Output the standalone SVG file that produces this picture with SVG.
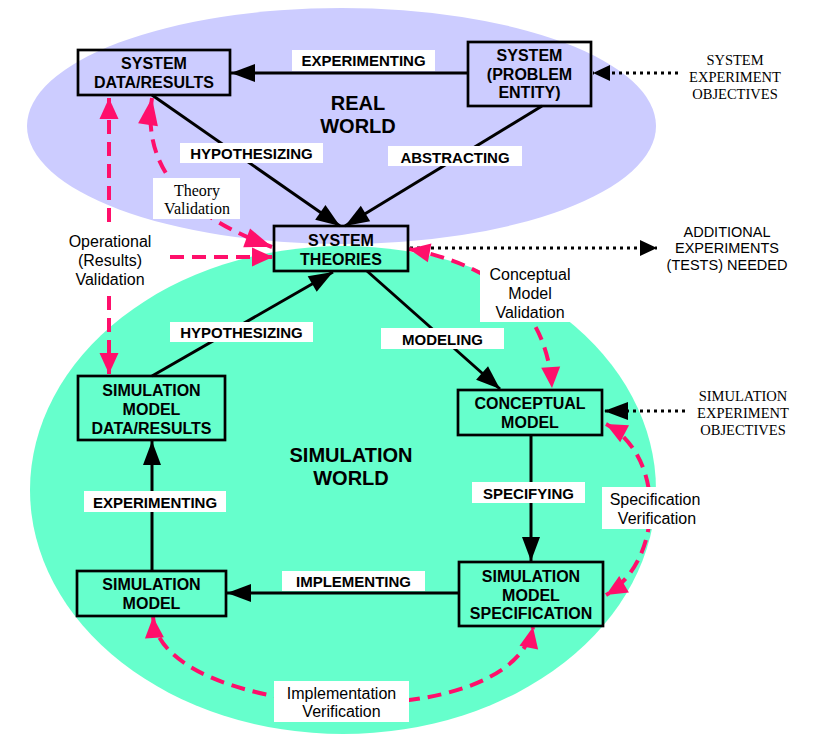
<svg xmlns="http://www.w3.org/2000/svg" width="823" height="741" viewBox="0 0 823 741">
<style>
.box{fill:none;stroke:#000;stroke-width:2.7}
.bt{font-family:"Liberation Sans",Arial,sans-serif;font-weight:bold;font-size:16px;text-anchor:middle;fill:#000}
.lt{font-family:"Liberation Sans",Arial,sans-serif;font-weight:bold;font-size:15px;text-anchor:middle;fill:#000}
.wt{font-family:"Liberation Sans",Arial,sans-serif;font-weight:bold;font-size:20px;text-anchor:middle;fill:#000}
.pt{font-family:"Liberation Sans",Arial,sans-serif;font-size:16px;text-anchor:middle;fill:#000}
.at{font-family:"Liberation Sans",Arial,sans-serif;font-size:14.5px;text-anchor:middle;fill:#000}
.st{font-family:"Liberation Serif","Times New Roman",serif;font-size:14.5px;text-anchor:middle;fill:#000}
.tt{font-family:"Liberation Serif","Times New Roman",serif;font-size:16px;text-anchor:middle;fill:#000}
.ln{stroke:#000;stroke-width:3;fill:none}
.ds{stroke:#FF0F6B;stroke-width:4;stroke-dasharray:14 8;fill:none}
.dt{stroke:#000;stroke-width:3;stroke-dasharray:3 4;fill:none}
.bg{fill:#fff}
</style>
<defs>
<marker id="ah" markerUnits="userSpaceOnUse" markerWidth="26" markerHeight="20" refX="24" refY="9" orient="auto" overflow="visible"><path d="M0,0 L24,9 L0,18 Z" fill="#000"/></marker>
<marker id="ahs" markerUnits="userSpaceOnUse" markerWidth="18" markerHeight="16" refX="17" refY="8" orient="auto" overflow="visible"><path d="M0,0 L17,8 L0,16 Z" fill="#000"/></marker>
<marker id="ahp" markerUnits="userSpaceOnUse" markerWidth="22" markerHeight="20" refX="21" refY="9.5" orient="auto-start-reverse" overflow="visible"><path d="M0,0 L21,9.5 L0,19 Z" fill="#FF0F6B"/></marker>
<marker id="ahpl" markerUnits="userSpaceOnUse" markerWidth="28" markerHeight="20" refX="27" refY="10" orient="auto-start-reverse" overflow="visible"><path d="M0,0 L27,10 L0,20 Z" fill="#FF0F6B"/></marker>
</defs>

<g id="regions">
<ellipse id="simulation-world" cx="343" cy="490" rx="313" ry="244" fill="#66FFCC"/>
<ellipse id="real-world" cx="341.5" cy="126" rx="314.5" ry="118" fill="#CCCCFF"/>
<text class="wt" x="358" y="110">REAL</text>
<text class="wt" x="358" y="133">WORLD</text>
<text class="wt" x="351" y="462">SIMULATION</text>
<text class="wt" x="351" y="485">WORLD</text>
</g>

<g id="connectors">
<line class="ln" x1="468" y1="73" x2="231" y2="73" marker-end="url(#ah)"/>
<line class="ln" x1="152" y1="95" x2="340" y2="226" marker-end="url(#ah)"/>
<line class="ln" x1="542" y1="106" x2="345" y2="226" marker-end="url(#ah)"/>
<line class="ln" x1="152" y1="376" x2="333" y2="272" marker-end="url(#ah)"/>
<line class="ln" x1="367" y1="271" x2="500" y2="389" marker-end="url(#ah)"/>
<line class="ln" x1="531" y1="435" x2="531" y2="561" marker-end="url(#ah)"/>
<line class="ln" x1="459" y1="593" x2="227" y2="593" marker-end="url(#ah)"/>
<line class="ln" x1="152" y1="571" x2="152" y2="441" marker-end="url(#ah)"/>

<line class="dt" x1="678" y1="73" x2="593" y2="73" marker-end="url(#ahs)"/>
<line class="dt" x1="410" y1="248" x2="657" y2="248" marker-end="url(#ahs)"/>
<line class="dt" x1="685" y1="411" x2="604" y2="411" marker-end="url(#ah)"/>

<line class="ds" x1="109" y1="98" x2="109" y2="374" marker-start="url(#ahp)" marker-end="url(#ahp)"/>
<path class="ds" d="M272,247 Q137,198 152,98" marker-start="url(#ahpl)" marker-end="url(#ahpl)"/>
<line class="ds" x1="170" y1="257" x2="273" y2="257" marker-end="url(#ahp)"/>
<path class="ds" d="M409,249 Q545,275 552,388" marker-start="url(#ahp)" marker-end="url(#ahp)"/>
<path class="ds" d="M606,424 C665,455 665,560 606,595" marker-start="url(#ahp)" marker-end="url(#ahp)"/>
<path class="ds" d="M153,617 C160,720 510,740 533,627" marker-start="url(#ahp)" marker-end="url(#ahp)"/>

<g id="label-experimenting-top"><rect class="bg" x="292" y="50" width="143" height="21"/><text class="lt" x="363.5" y="66">EXPERIMENTING</text></g>
<g id="label-hypothesizing-top"><rect class="bg" x="180" y="143" width="143" height="20"/><text class="lt" x="251.5" y="159">HYPOTHESIZING</text></g>
<g id="label-abstracting"><rect class="bg" x="388" y="146" width="134" height="20"/><text class="lt" x="455" y="162.5">ABSTRACTING</text></g>
<g id="label-hypothesizing-low"><rect class="bg" x="170" y="322" width="143" height="20"/><text class="lt" x="241.5" y="337.5">HYPOTHESIZING</text></g>
<g id="label-modeling"><rect class="bg" x="381" y="328" width="123" height="21"/><text class="lt" x="442.5" y="345">MODELING</text></g>
<g id="label-specifying"><rect class="bg" x="472" y="482" width="113" height="21"/><text class="lt" x="528.5" y="498.5">SPECIFYING</text></g>
<g id="label-implementing"><rect class="bg" x="282" y="571" width="143" height="20"/><text class="lt" x="353.5" y="586.5">IMPLEMENTING</text></g>
<g id="label-experimenting-low"><rect class="bg" x="84" y="491" width="142" height="21"/><text class="lt" x="155" y="507.5">EXPERIMENTING</text></g>

<g id="label-operational"><rect class="bg" x="65" y="230" width="95" height="60"/><text class="pt" x="110" y="247">Operational</text><text class="pt" x="110" y="266">(Results)</text><text class="pt" x="110" y="285">Validation</text></g>
<g id="label-theory"><rect class="bg" x="153" y="178" width="87" height="41"/><text class="tt" x="197" y="195.5">Theory</text><text class="tt" x="197" y="213.5">Validation</text></g>
<g id="label-conceptual"><rect class="bg" x="480" y="265" width="92" height="57"/><text class="pt" x="530" y="280">Conceptual</text><text class="pt" x="530" y="299">Model</text><text class="pt" x="530" y="317.5">Validation</text></g>
<g id="label-specification"><rect class="bg" x="602" y="487" width="100" height="42"/><text class="pt" x="655" y="505">Specification</text><text class="pt" x="657" y="524">Verification</text></g>
<g id="label-implementation"><rect class="bg" x="274" y="681" width="135" height="41"/><text class="pt" x="341.5" y="698.5">Implementation</text><text class="pt" x="341.5" y="717">Verification</text></g>

<g id="note-system-objectives"><text class="st" x="735" y="64.5">SYSTEM</text><text class="st" x="735" y="81.5">EXPERIMENT</text><text class="st" x="735" y="98.5">OBJECTIVES</text></g>
<g id="note-additional"><text class="at" x="727" y="236.5">ADDITIONAL</text><text class="at" x="727" y="253">EXPERIMENTS</text><text class="at" x="727" y="269.5">(TESTS) NEEDED</text></g>
<g id="note-simulation-objectives"><text class="st" x="743" y="400.5">SIMULATION</text><text class="st" x="743" y="417.5">EXPERIMENT</text><text class="st" x="743" y="434.5">OBJECTIVES</text></g>
</g>

<g id="system-data-results"><rect class="box" x="78" y="50" width="152" height="45"/><text class="bt" x="154" y="69">SYSTEM</text><text class="bt" x="154" y="88">DATA/RESULTS</text></g>
<g id="system-problem-entity"><rect class="box" x="468" y="42" width="123" height="64"/><text class="bt" x="529.5" y="61">SYSTEM</text><text class="bt" x="529.5" y="79.5">(PROBLEM</text><text class="bt" x="529.5" y="98">ENTITY)</text></g>
<g id="system-theories"><rect class="box" x="274" y="226" width="134" height="45"/><text class="bt" x="341" y="245.5">SYSTEM</text><text class="bt" x="341" y="264.5">THEORIES</text></g>
<g id="simulation-model-data-results"><rect class="box" x="78" y="376" width="147" height="64"/><text class="bt" x="151.5" y="395.5">SIMULATION</text><text class="bt" x="151.5" y="414.5">MODEL</text><text class="bt" x="151.5" y="433.5">DATA/RESULTS</text></g>
<g id="conceptual-model"><rect class="box" x="458" y="390" width="144" height="45"/><text class="bt" x="530" y="409.3">CONCEPTUAL</text><text class="bt" x="530" y="428.3">MODEL</text></g>
<g id="simulation-model-specification"><rect class="box" x="459" y="562" width="144" height="64"/><text class="bt" x="531" y="581.7">SIMULATION</text><text class="bt" x="531" y="600.5">MODEL</text><text class="bt" x="531" y="619.3">SPECIFICATION</text></g>
<g id="simulation-model"><rect class="box" x="77" y="571" width="149" height="45"/><text class="bt" x="151.5" y="590">SIMULATION</text><text class="bt" x="151.5" y="609.3">MODEL</text></g>
</svg>
